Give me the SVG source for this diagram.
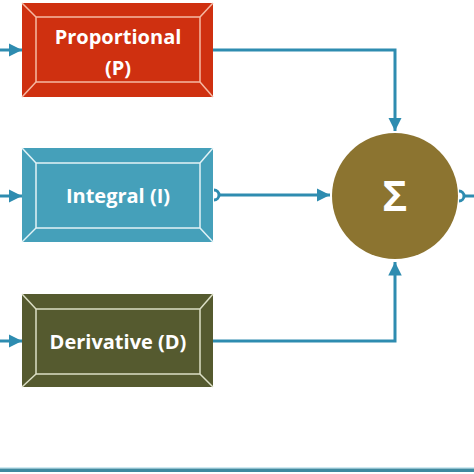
<svg xmlns="http://www.w3.org/2000/svg" width="474" height="474" viewBox="0 0 474 474">
<defs>
<style>
.conn{fill:none;stroke:#2e8cb0;stroke-width:3}
.bev{fill:none;stroke-width:1.5}
.lbl{font-family:"Open Sans","Liberation Sans",sans-serif;font-weight:bold;font-size:20px;fill:#ffffff;text-anchor:middle}
</style>
<marker id="ah" viewBox="0 0 10 10" refX="10" refY="5" markerWidth="4.5" markerHeight="4.5" orient="auto" markerUnits="strokeWidth">
<path d="M0,0 L10,5 L0,10 Z" fill="#2e8cb0"/>
</marker>
</defs>
<rect width="474" height="474" fill="#ffffff"/>
<g id="connectors">
<line class="conn" x1="0" y1="50" x2="22" y2="50" marker-end="url(#ah)"/>
<line class="conn" x1="0" y1="196" x2="22" y2="196" marker-end="url(#ah)"/>
<line class="conn" x1="0" y1="341" x2="22" y2="341" marker-end="url(#ah)"/>
<polyline class="conn" points="213,50 395,50 395,131" marker-end="url(#ah)"/>
<line class="conn" x1="218" y1="195" x2="330" y2="195" marker-end="url(#ah)"/>
<path class="conn" d="M214,190 A5,5 0 0 1 214,200"/>
<polyline class="conn" points="213,341 395,341 395,262" marker-end="url(#ah)"/>
<line class="conn" x1="463" y1="196" x2="474" y2="196"/>
<path class="conn" d="M459,191 A5,5 0 0 1 459,201"/>
</g>
<g id="node-p">
<rect x="22" y="3" width="191" height="94" fill="#cf3010"/>
<g class="bev" stroke="#f6b9a4">
<rect x="36" y="17" width="164" height="65"/>
<line x1="22" y1="3" x2="36" y2="17"/><line x1="213" y1="3" x2="200" y2="17"/>
<line x1="22" y1="97" x2="36" y2="82"/><line x1="213" y1="97" x2="200" y2="82"/>
</g>
<text class="lbl" x="118" y="44">Proportional</text>
<text class="lbl" x="118" y="75">(P)</text>
</g>
<g id="node-i">
<rect x="22" y="148" width="191" height="94" fill="#45a0ba"/>
<g class="bev" stroke="#e2f2f6">
<rect x="36" y="163" width="164" height="65"/>
<line x1="22" y1="148" x2="36" y2="163"/><line x1="213" y1="148" x2="200" y2="163"/>
<line x1="22" y1="242" x2="36" y2="228"/><line x1="213" y1="242" x2="200" y2="228"/>
</g>
<text class="lbl" x="118" y="203">Integral (I)</text>
</g>
<g id="node-d">
<rect x="22" y="294" width="191" height="93" fill="#555a2f"/>
<g class="bev" stroke="#dcdfc6">
<rect x="36" y="309" width="164" height="65"/>
<line x1="22" y1="294" x2="36" y2="309"/><line x1="213" y1="294" x2="200" y2="309"/>
<line x1="22" y1="387" x2="36" y2="374"/><line x1="213" y1="387" x2="200" y2="374"/>
</g>
<text class="lbl" x="118" y="349">Derivative (D)</text>
</g>
<g id="node-sum">
<circle cx="395" cy="196" r="63" fill="#8c7430"/>
<text x="395" y="211" font-family="'Open Sans','Liberation Sans',sans-serif" font-weight="bold" font-size="42" fill="#ffffff" text-anchor="middle">Σ</text>
</g>
<g id="footer">
<rect x="0" y="467" width="474" height="1.5" fill="#cfeaf2"/>
<rect x="0" y="468.5" width="474" height="3.5" fill="#3f8aa0"/>
</g>
</svg>
